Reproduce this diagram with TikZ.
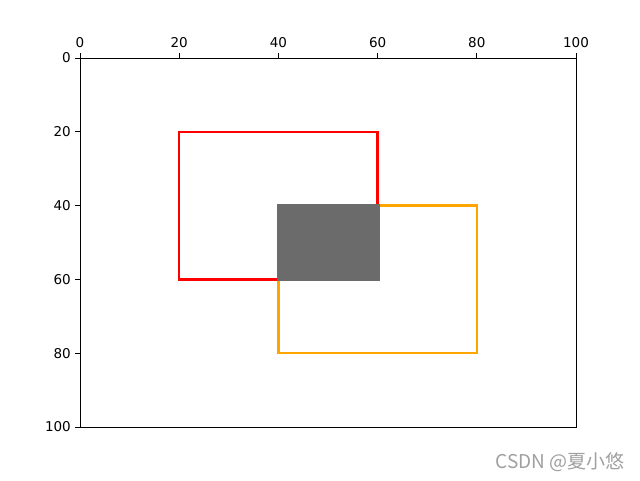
\documentclass[tikz,border=0pt]{standalone}
\usepackage{fontspec}
\setmainfont{DejaVu Sans}
\newfontfamily\cjk{Noto Sans CJK SC}
\begin{document}
\begin{tikzpicture}[x=1pt,y=-1pt,
  ticklbl/.style={font=\fontsize{13.5}{14}\selectfont, inner sep=0pt},
  boxline/.style={line width=2.4pt},
  axline/.style={line width=0.9pt, black}]
\useasboundingbox (0,0) rectangle (640,480);
\fill[white] (0,0) rectangle (640,480);
% data rectangles
\begin{scope}[xshift=80pt, yshift=-58pt, x=4.96pt, y=-3.69pt]
  \draw[boxline, red] (20,20) rectangle (60,60);
  \draw[boxline, color={rgb,255:red,255;green,165;blue,0}] (40,40) rectangle (80,80);
\end{scope}
\fill[color={rgb,255:red,107;green,107;blue,107}] (277,204) rectangle (380,281);
% axes frame
\node[draw, axline, inner sep=0pt, minimum width=496pt, minimum height=369pt, anchor=north west] (ax) at (80,58) {};
% ticks and labels
\foreach \v [count=\i] in {0,20,40,60,80,100} {
  \pgfmathsetmacro{\px}{80+4.96*\v}
  \pgfmathsetmacro{\py}{58+3.69*\v}
  \coordinate (tx\i) at (\px,58);
  \coordinate (ty\i) at (80,\py);
  \draw[axline] (tx\i) -- ++(0,-5) coordinate (txe\i);
  \draw[axline] (ty\i) -- ++(-5,0) coordinate (tye\i);
  \node[ticklbl, anchor=south] (lx\i) at ([yshift=5pt]txe\i) {\v};
  \node[ticklbl, anchor=east] (ly\i) at ([xshift=-4pt]tye\i) {\v};
}
% watermark
\node[font=\cjk\fontsize{19}{20}\selectfont, text={rgb,255:red,160;green,160;blue,160}, anchor=east, inner sep=0pt] (wm) at (625,462) {CSDN @夏小悠};
\end{tikzpicture}
\end{document}
